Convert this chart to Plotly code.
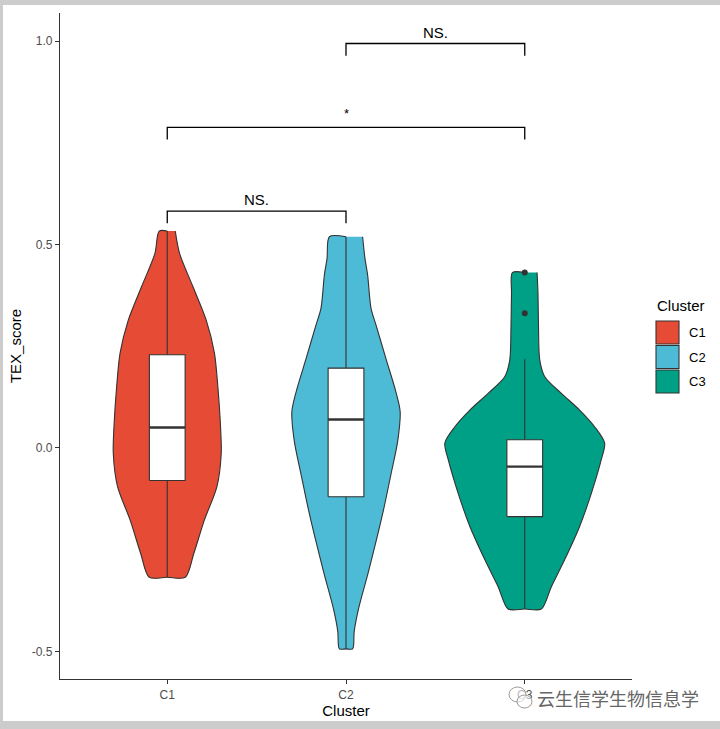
import plotly.graph_objects as go

# ---------------- data ----------------
categories = ["C1", "C2", "C3"]
colors = ["#E64B35", "#4DBBD5", "#00A087"]

# violin outlines: y values (top -> bottom) and half-widths (x units)
c1_y = [0.533, 0.478, 0.396, 0.314, 0.233, 0.151, 0.069, -0.013, -0.095, -0.177, -0.259, -0.318]
c1_halfwidth = [0.045, 0.069, 0.144, 0.218, 0.264, 0.283, 0.296, 0.302, 0.278, 0.208, 0.149, 0.101]

c2_y = [0.519, 0.466, 0.425, 0.343, 0.302, 0.220, 0.138, 0.089, 0.016, -0.066, -0.148, -0.230, -0.312, -0.394, -0.451, -0.494]
c2_halfwidth = [0.093, 0.106, 0.121, 0.140, 0.168, 0.223, 0.279, 0.303, 0.289, 0.251, 0.212, 0.168, 0.121, 0.071, 0.046, 0.037]

c3_y = [0.431, 0.380, 0.298, 0.216, 0.175, 0.134, 0.093, 0.052, 0.012, -0.029, -0.111, -0.193, -0.275, -0.341, -0.396]
c3_halfwidth = [0.069, 0.074, 0.077, 0.084, 0.112, 0.205, 0.307, 0.391, 0.447, 0.428, 0.373, 0.307, 0.223, 0.149, 0.093]

# box plot statistics
box_q1 = [-0.080, -0.120, -0.169]
box_median = [0.050, 0.070, -0.046]
box_q3 = [0.229, 0.196, 0.020]
whisker_low = [-0.318, -0.494, -0.396]
whisker_high = [0.533, 0.519, 0.218]
box_halfwidth = 0.1

outlier_cluster = ["C3", "C3"]
outlier_values = [0.431, 0.331]

# significance brackets
bracket_from = ["C2", "C1", "C1"]
bracket_to = ["C3", "C3", "C2"]
bracket_y = [0.994, 0.788, 0.582]
bracket_labels = ["NS.", "*", "NS."]

y_tick_values = [-0.5, 0.0, 0.5, 1.0]
y_tick_labels = ["-0.5", "0.0", "0.5", "1.0"]

watermark = "云生信学生物信息学"

# ---------------- figure ----------------
W, H = 720, 729
L, R, T, B = 60, 88, 13, 50
pw, ph = W - L - R, H - T - B

def px_x(px):
    return (px - L) / pw

def px_y(py):
    return (H - B - py) / ph

pos = {c: i + 1 for i, c in enumerate(categories)}
DARK = "#333333"
FONT = "Liberation Sans, Arial, sans-serif"

fig = go.Figure()

violins = [(c1_y, c1_halfwidth), (c2_y, c2_halfwidth), (c3_y, c3_halfwidth)]
for cat, col, (ys, hws) in zip(categories, colors, violins):
    c = pos[cat]
    xs = [c + w for w in hws] + [c] + [c - w for w in reversed(hws)] + [c]
    yy = list(ys) + [ys[-1]] + list(reversed(ys)) + [ys[0]]
    fig.add_trace(go.Scatter(
        x=xs, y=yy, mode="lines", fill="toself", fillcolor=col,
        line=dict(color=DARK, width=1.1, shape="spline", smoothing=0.8),
        showlegend=False, hoverinfo="skip"))

for i, cat in enumerate(categories):
    c = pos[cat]
    # whiskers
    fig.add_trace(go.Scatter(
        x=[c, c, None, c, c],
        y=[box_q3[i], whisker_high[i], None, box_q1[i], whisker_low[i]],
        mode="lines", line=dict(color=DARK, width=1.1),
        showlegend=False, hoverinfo="skip"))
    # box
    fig.add_trace(go.Scatter(
        x=[c - box_halfwidth, c + box_halfwidth, c + box_halfwidth, c - box_halfwidth, c - box_halfwidth],
        y=[box_q1[i], box_q1[i], box_q3[i], box_q3[i], box_q1[i]],
        mode="lines", fill="toself", fillcolor="white",
        line=dict(color=DARK, width=1.1),
        showlegend=False, hoverinfo="skip"))
    # median
    fig.add_trace(go.Scatter(
        x=[c - box_halfwidth, c + box_halfwidth], y=[box_median[i]] * 2,
        mode="lines", line=dict(color=DARK, width=2.4),
        showlegend=False, hoverinfo="skip"))

fig.add_trace(go.Scatter(
    x=[pos[c] for c in outlier_cluster], y=outlier_values, mode="markers",
    marker=dict(color=DARK, size=6), showlegend=False, hoverinfo="skip"))

tick_drop = 0.03
for a, b, yv, lab in zip(bracket_from, bracket_to, bracket_y, bracket_labels):
    xa, xb = pos[a], pos[b]
    fig.add_trace(go.Scatter(
        x=[xa, xa, xb, xb], y=[yv - tick_drop, yv, yv, yv - tick_drop],
        mode="lines", line=dict(color="black", width=1.3),
        showlegend=False, hoverinfo="skip"))
    is_star = lab == "*"
    fig.add_annotation(
        x=(xa + xb) / 2, y=yv + (0.034 if is_star else 0.028),
        text=lab, showarrow=False, xanchor="center", yanchor="middle",
        font=dict(family=FONT, size=13 if is_star else 15, color="black"))

# frame of the screenshot
shapes = [dict(type="rect", xref="paper", yref="paper", layer="below",
               x0=px_x(3), x1=px_x(W + 5), y0=px_y(721), y1=px_y(5),
               fillcolor="white", line=dict(width=0))]

# legend (manual, ggplot-style square keys)
fig.add_annotation(xref="paper", yref="paper", x=px_x(655), y=px_y(305),
                   xanchor="left", yanchor="middle", showarrow=False,
                   text="Cluster", font=dict(family=FONT, size=15, color="black"))
key_top = 321
key_size = 23
for i, (cat, col) in enumerate(zip(categories, colors)):
    y0 = key_top + i * 24.5
    shapes.append(dict(type="rect", xref="paper", yref="paper",
                       x0=px_x(656), x1=px_x(656 + key_size),
                       y0=px_y(y0 + key_size), y1=px_y(y0),
                       fillcolor=col, line=dict(color=DARK, width=1.1)))
    fig.add_annotation(xref="paper", yref="paper", x=px_x(687), y=px_y(y0 + key_size / 2),
                       xanchor="left", yanchor="middle", showarrow=False,
                       text=cat, font=dict(family=FONT, size=13, color="black"))

# watermark
shapes.append(dict(type="circle", xref="paper", yref="paper", layer="above",
                   x0=px_x(509), x1=px_x(526), y0=px_y(702), y1=px_y(687),
                   fillcolor="rgba(255,255,255,0.6)", line=dict(color="#999999", width=1)))
shapes.append(dict(type="circle", xref="paper", yref="paper", layer="above",
                   x0=px_x(517), x1=px_x(532), y0=px_y(708), y1=px_y(695),
                   fillcolor="rgba(255,255,255,0.6)", line=dict(color="#999999", width=1)))
fig.add_annotation(xref="paper", yref="paper", x=px_x(535), y=px_y(698),
                   xanchor="left", yanchor="middle", showarrow=False,
                   text=watermark,
                   font=dict(family="Noto Sans CJK SC", size=18, color="#666666"))

fig.update_layout(
    width=W, height=H,
    margin=dict(l=L, r=R, t=T, b=B),
    paper_bgcolor="#cccccc", plot_bgcolor="white",
    shapes=shapes, showlegend=False,
    font=dict(family=FONT),
    xaxis=dict(range=[0.4, 3.6], tickvals=[pos[c] for c in categories], ticktext=categories,
               showline=True, linecolor=DARK, linewidth=1.4, ticks="outside", ticklen=4,
               tickcolor=DARK, tickwidth=1.1, showgrid=False, zeroline=False,
               tickfont=dict(family=FONT, size=12, color="#4d4d4d"),
               title=dict(text="Cluster", font=dict(family=FONT, size=15, color="black"), standoff=1)),
    yaxis=dict(range=[-0.568, 1.069], tickvals=y_tick_values, ticktext=y_tick_labels,
               showline=True, linecolor=DARK, linewidth=1.4, ticks="outside", ticklen=4,
               tickcolor=DARK, tickwidth=1.1, showgrid=False, zeroline=False,
               tickfont=dict(family=FONT, size=12, color="#4d4d4d"),
               title=dict(text="TEX_score", font=dict(family=FONT, size=15, color="black"), standoff=6)),
)

fig.write_html("out.html", config={"displayModeBar": False},
               post_script="document.body.style.margin='0';document.body.style.overflow='hidden';")
